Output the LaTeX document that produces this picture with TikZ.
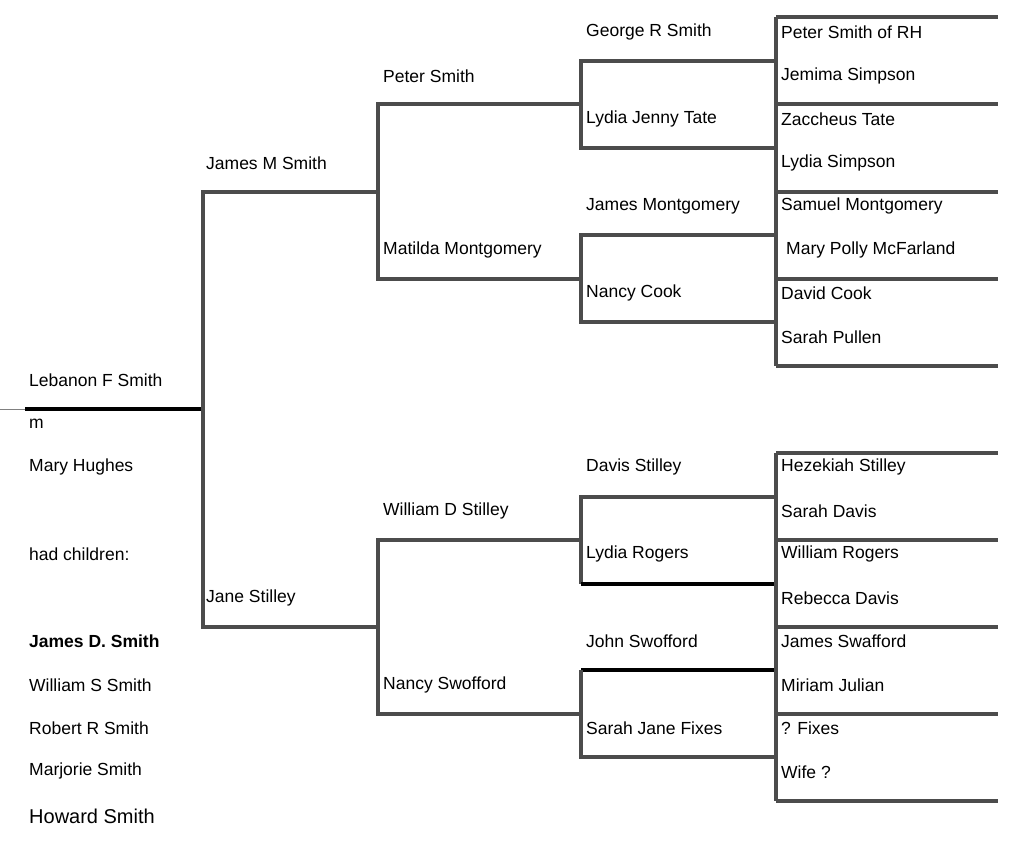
\documentclass[tikz,border=0pt]{standalone}
\usepackage{fontspec}
\setmainfont{Liberation Sans}
\begin{document}
\begin{tikzpicture}[x=1pt,y=-1pt,
  ln/.style={draw=black!70,line width=3.2pt},
  bk/.style={draw=black,line width=3.2pt},
  lbl/.style={anchor=west,inner sep=0pt,font=\fontsize{17.5}{20}\selectfont}]
\useasboundingbox (0,0) rectangle (1024,861);
% root
\draw[black!50,line width=0.6pt] (0,409) -- (25,409);
\draw[bk] (25,409) -- (203,409);
% gen1
\draw[ln] (378,192) -- (203,192) -- (203,627) -- (378,627);
% gen2
\draw[ln] (581,104) -- (378,104) -- (378,279) -- (581,279);
\draw[ln] (581,540) -- (378,540) -- (378,714) -- (581,714);
% gen3
\draw[ln] (776,61) -- (581,61) -- (581,148) -- (776,148);
\draw[ln] (776,235) -- (581,235) -- (581,322) -- (776,322);
\draw[ln] (776,497) -- (581,497) -- (581,584);
\draw[bk] (581,584) -- (776,584);
\draw[bk] (581,670) -- (776,670);
\draw[ln] (581,670) -- (581,757) -- (776,757);
% gen4
\draw[ln] (776,17) -- (776,366);
\draw[ln] (776,453) -- (776,801);
\foreach \y in {17,104,192,279,366,453,540,627,714,801}
  \draw[ln] (776,\y) -- (998,\y);
% labels
\node[lbl] (n1) at (29,380) {Lebanon F Smith};
\node[lbl] (n2) at (29,424) {m};
\node[lbl] (n3) at (29,467) {Mary Hughes};
\node[lbl] (n4) at (29,554) {had children:};
\node[lbl,font=\fontsize{17.5}{20}\selectfont\bfseries] (n5) at (29,641) {James D. Smith};
\node[lbl] (n6) at (29,685) {William S Smith};
\node[lbl] (n7) at (29,728) {Robert R Smith};
\node[lbl] (n8) at (29,771) {Marjorie Smith};
\node[lbl,font=\fontsize{20}{24}\selectfont] (n9) at (29,816) {Howard Smith};
\node[lbl] (g1a) at (206,163) {James M Smith};
\node[lbl] (g1b) at (206,598) {Jane Stilley};
\node[lbl] (g2a) at (383,76) {Peter Smith};
\node[lbl] (g2b) at (383,250) {Matilda Montgomery};
\node[lbl] (g2c) at (383,511) {William D Stilley};
\node[lbl] (g2d) at (383,685) {Nancy Swofford};
\node[lbl] (g3a) at (586,32) {George R Smith};
\node[lbl] (g3b) at (586,119) {Lydia Jenny Tate};
\node[lbl] (g3c) at (586,206) {James Montgomery};
\node[lbl] (g3d) at (586,293) {Nancy Cook};
\node[lbl] (g3e) at (586,467) {Davis Stilley};
\node[lbl] (g3f) at (586,554) {Lydia Rogers};
\node[lbl] (g3g) at (586,641) {John Swofford};
\node[lbl] (g3h) at (586,728) {Sarah Jane Fixes};
\node[lbl] (g4a) at (781,32) {Peter Smith of RH};
\node[lbl] (g4b) at (781,76) {Jemima Simpson};
\node[lbl] (g4c) at (781,119) {Zaccheus Tate};
\node[lbl] (g4d) at (781,163) {Lydia Simpson};
\node[lbl] (g4e) at (781,206) {Samuel Montgomery};
\node[lbl] (g4f) at (786,250) {Mary Polly McFarland};
\node[lbl] (g4g) at (781,293) {David Cook};
\node[lbl] (g4h) at (781,337) {Sarah Pullen};
\node[lbl] (g4i) at (781,467) {Hezekiah Stilley};
\node[lbl] (g4j) at (781,511) {Sarah Davis};
\node[lbl] (g4k) at (781,554) {William Rogers};
\node[lbl] (g4l) at (781,598) {Rebecca Davis};
\node[lbl] (g4m) at (781,641) {James Swafford};
\node[lbl] (g4n) at (781,685) {Miriam Julian};
\node[lbl] (g4o) at (781,728) {? Fixes};
\node[lbl] (g4p) at (781,772) {Wife ?};
\end{tikzpicture}
\end{document}
